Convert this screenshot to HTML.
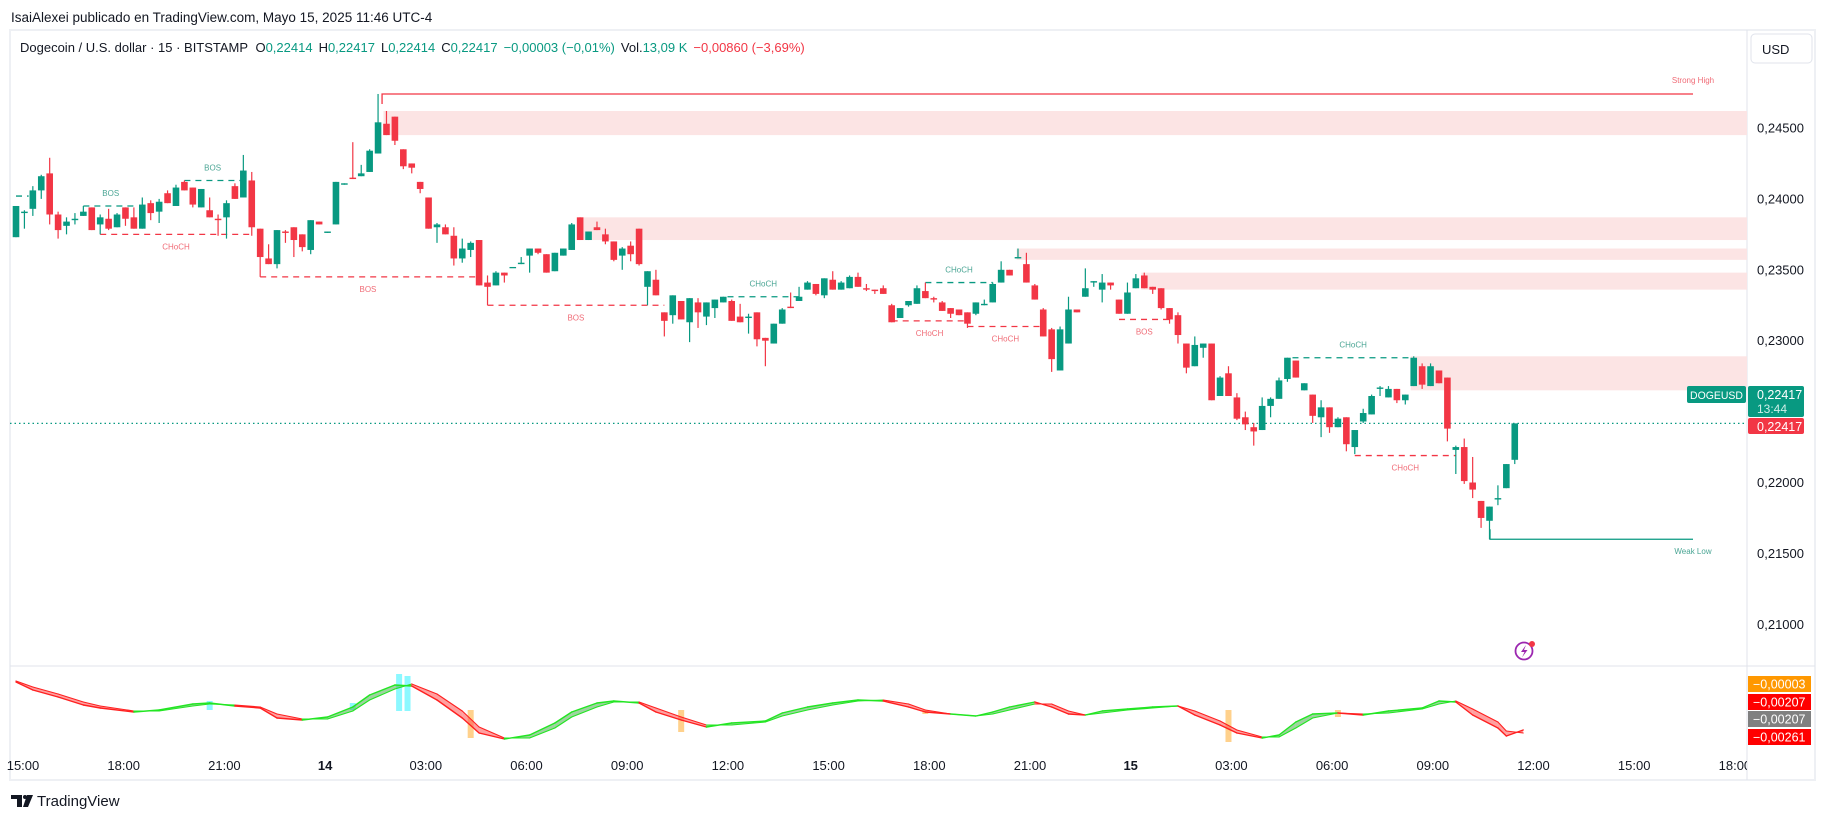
<!DOCTYPE html>
<html><head><meta charset="utf-8">
<style>
html,body{margin:0;padding:0;background:#fff;width:1826px;height:820px;overflow:hidden}
svg{display:block;font-family:"Liberation Sans",sans-serif}
</style></head>
<body>
<svg id="chart" width="1826" height="820" viewBox="0 0 1826 820" xmlns="http://www.w3.org/2000/svg">
<rect x="0" y="0" width="1826" height="820" fill="#ffffff"/>
<text x="11" y="22" font-size="13.5" fill="#131722">IsaiAlexei publicado en TradingView.com, Mayo 15, 2025 11:46 UTC-4</text>
<rect x="10" y="30" width="1805" height="750" fill="none" stroke="#eef0f4" stroke-width="2"/>
<text x="20" y="52" font-size="13" fill="#131722">Dogecoin / U.S. dollar · 15 · BITSTAMP <tspan dx="4">O</tspan><tspan fill="#089981">0,22414</tspan><tspan dx="6">H</tspan><tspan fill="#089981">0,22417</tspan><tspan dx="6">L</tspan><tspan fill="#089981">0,22414</tspan><tspan dx="6">C</tspan><tspan fill="#089981">0,22417</tspan><tspan dx="6" fill="#089981">−0,00003 (−0,01%)</tspan><tspan dx="6">Vol.</tspan><tspan fill="#089981">13,09 K</tspan><tspan dx="6" fill="#f23645">−0,00860 (−3,69%)</tspan></text>
<g>
<rect x="1751" y="34" width="61" height="29" rx="4" fill="#fff" stroke="#e0e3eb"/>
<text x="1762" y="54" font-size="13" fill="#131722">USD</text>
</g>
<line x1="1747" y1="30" x2="1747" y2="780" stroke="#e0e3eb"/>
<line x1="10" y1="666" x2="1815" y2="666" stroke="#e0e3eb"/>
<defs><clipPath id="plotClip"><rect x="10" y="30" width="1737" height="750"/></clipPath></defs>
<g id="zones" clip-path="url(#plotClip)"></g>
<g id="structure" clip-path="url(#plotClip)"></g>
<g id="candles" clip-path="url(#plotClip)"></g>
<g id="osc" clip-path="url(#plotClip)"></g>
<g id="axes"></g>
<g id="tags"></g>
<g>
<circle cx="1524" cy="651" r="8.5" fill="none" stroke="#9c27b0" stroke-width="1.8"/>
<path d="M1526 645 L1521 652 L1524.5 652 L1522 657.5 L1527.5 650 L1524 650 Z" fill="#9c27b0"/>
<circle cx="1532" cy="644" r="3" fill="#f23645"/>
</g>
<g>
<path d="M11 795 H22 V807 H17 V799 H11 Z" fill="#131722"/>
<circle cx="25" cy="797" r="2" fill="#131722"/>
<path d="M27 795 H33 L28 807 H23 Z" fill="#131722"/>
<text x="37" y="806" font-size="15" fill="#131722">TradingView</text>
</g>
</svg>
<script>
// ---- data ----
const opens=[.2373,.2390,.2393,.2406,.2418,.2389,.2381,.2385,.2388,.2394,.2382,.2386,.2380,.2394,.2387,.2379,.2397,.2391,.2404,.2395,.2412,.2408,.2394,.2392,.2386,.2387,.2409,.2401,.2413,.2379,.2358,.2354,.2377,.2380,.2375,.2364,.2384,.2376,.2382,.2410,.2415,.2416,.2419,.2432,.2453,.2458,.2435,.2425,.2412,.2401,.2380,.2380,.2374,.2358,.2364,.2371,.2341,.2339,.2348,.2352,.2354,.2360,.2365,.2361,.2349,.2360,.2364,.2387,.2371,.2380,.2375,.2370,.2360,.2367,.2379,.2338,.2343,.2320,.2318,.2328,.2313,.2327,.2317,.2323,.2327,.2328,.2317,.2316,.2320,.2302,.2298,.2312,.2324,.2328,.2336,.2340,.2332,.2343,.2336,.2337,.2345,.2337,.2336,.2337,.2325,.2316,.2325,.2326,.2335,.2330,.2327,.2323,.2322,.2320,.2319,.2325,.2327,.2341,.2350,.2358,.2354,.2339,.2322,.2308,.2279,.2298,.2322,.2331,.2341,.2336,.2341,.2329,.2319,.2337,.2346,.2338,.2337,.2323,.2318,.2298,.2282,.2295,.2298,.2261,.2277,.2260,.2246,.2239,.2237,.2254,.2259,.2273,.2286,.2265,.2262,.2246,.2253,.2239,.2246,.2225,.2243,.2248,.2266,.2260,.2266,.2258,.2268,.2282,.2268,.2279,.2274,.2223,.2225,.2200,.2187,.2173,.2188,.2196,.2216];
const highs=[.2395,.2392,.2409,.2417,.2429,.2391,.2387,.2390,.2395,.2394,.2389,.2393,.2390,.2394,.2394,.2401,.2399,.2400,.2406,.2410,.2413,.2408,.2407,.2401,.2389,.2399,.2411,.2431,.2419,.2379,.2368,.2378,.2378,.2380,.2375,.2385,.2384,.2377,.2412,.2411,.2440,.2424,.2435,.2474,.2462,.2458,.2435,.2425,.2412,.2401,.2383,.2382,.2380,.2372,.2370,.2371,.2346,.2349,.2348,.2352,.2359,.2365,.2365,.2361,.2362,.2365,.2383,.2387,.2377,.2384,.2379,.2370,.2366,.2370,.2379,.2349,.2350,.2320,.2332,.2328,.2330,.2330,.2327,.2329,.2331,.2329,.2326,.2319,.2320,.2302,.2312,.2323,.2334,.2338,.2342,.2340,.2344,.2349,.2342,.2346,.2348,.2340,.2336,.2339,.2326,.2323,.2328,.2339,.2341,.2331,.2328,.2323,.2322,.2320,.2327,.2329,.2341,.2356,.2350,.2365,.2362,.2340,.2323,.2309,.2310,.2331,.2322,.2351,.2342,.2347,.2341,.2329,.2341,.2347,.2348,.2338,.2337,.2323,.2320,.2298,.2303,.2298,.2298,.2275,.2282,.2263,.2250,.2242,.2260,.2260,.2274,.2288,.2286,.2270,.2262,.2258,.2253,.2246,.2246,.2237,.2252,.2262,.2268,.2268,.2266,.2262,.2289,.2284,.2284,.2279,.2274,.2226,.2231,.2218,.2187,.2183,.2198,.2213,.2241];
const lows=[.2373,.2379,.2388,.2400,.2382,.2372,.2375,.2382,.2388,.2378,.2375,.2378,.2380,.2381,.2379,.2379,.2385,.2383,.2397,.2395,.2406,.2394,.2394,.2387,.2374,.2372,.2400,.2401,.2374,.2345,.2354,.2351,.2369,.2359,.2363,.2361,.2382,.2376,.2382,.2410,.2414,.2416,.2419,.2432,.2445,.2438,.2421,.2418,.2404,.2379,.2369,.2375,.2353,.2355,.2359,.2339,.2325,.2339,.2341,.2352,.2354,.2348,.2361,.2348,.2349,.2360,.2364,.2371,.2371,.2378,.2368,.2356,.2350,.2356,.2353,.2325,.2332,.2303,.2312,.2315,.2299,.2309,.2311,.2316,.2327,.2314,.2313,.2305,.2296,.2282,.2298,.2312,.2323,.2328,.2336,.2332,.2330,.2336,.2336,.2337,.2338,.2335,.2333,.2333,.2313,.2316,.2324,.2326,.2330,.2327,.2321,.2316,.2318,.2309,.2318,.2325,.2327,.2341,.2346,.2358,.2341,.2329,.2303,.2278,.2279,.2298,.2320,.2331,.2338,.2327,.2336,.2319,.2319,.2337,.2337,.2333,.2322,.2312,.2298,.2277,.2282,.2288,.2258,.2261,.2261,.2244,.2237,.2226,.2237,.2246,.2259,.2271,.2274,.2265,.2242,.2232,.2235,.2239,.2222,.2220,.2242,.2248,.2261,.2260,.2256,.2255,.2268,.2266,.2268,.2270,.2229,.2206,.2199,.2189,.2168,.2160,.2184,.2196,.2213];
const closes=[.2395,.2391,.2406,.2416,.2389,.2378,.2384,.2386,.2391,.2378,.2387,.2379,.2389,.2386,.2379,.2396,.2390,.2398,.2397,.2408,.2406,.2396,.2407,.2387,.2385,.2397,.2400,.2420,.2380,.2359,.2354,.2378,.2376,.2371,.2366,.2385,.2382,.2377,.2412,.2411,.2414,.2418,.2434,.2454,.2445,.2441,.2423,.2422,.2407,.2379,.2382,.2375,.2358,.2365,.2369,.2339,.2338,.2348,.2346,.2352,.2355,.2365,.2362,.2348,.2362,.2365,.2382,.2371,.2377,.2378,.2370,.2357,.2365,.2361,.2354,.2349,.2332,.2314,.2332,.2315,.2330,.2320,.2327,.2329,.2331,.2314,.2313,.2317,.2301,.2300,.2312,.2322,.2323,.2331,.2341,.2333,.2344,.2336,.2341,.2345,.2338,.2336,.2335,.2333,.2313,.2323,.2328,.2337,.2330,.2329,.2321,.2319,.2318,.2312,.2327,.2326,.2340,.2350,.2346,.2359,.2341,.2329,.2303,.2287,.2308,.2322,.2320,.2337,.2342,.2341,.2339,.2319,.2334,.2344,.2337,.2336,.2323,.2315,.2304,.2281,.2297,.2298,.2258,.2274,.2261,.2245,.2241,.2236,.2254,.2259,.2272,.2288,.2274,.2270,.2247,.2253,.2239,.2245,.2227,.2237,.2249,.2261,.2267,.2266,.2258,.2262,.2288,.2269,.2282,.2270,.2238,.2225,.2201,.2195,.2175,.2183,.2189,.2213,.22417];
const priceTicks=[0.245,0.240,0.235,0.230,0.220,0.215,0.210];
const priceTickLabels=["0,24500","0,24000","0,23500","0,23000","0,22000","0,21500","0,21000"];
const timeLabels=["15:00","18:00","21:00","14","03:00","06:00","09:00","12:00","15:00","18:00","21:00","15","03:00","06:00","09:00","12:00","15:00","18:00"];
// supply zones: start bar, top price, bottom price
const zoneStart=[44,67.5,119.2,134,166];
const zoneTop=[.2462,.2387,.2365,.2348,.2289];
const zoneBottom=[.2445,.2371,.2357,.2336,.2265];
// structure breaks
const sbStart=[0,8,20,10,29,56,84.5,104,108,113,131,151.6,159];
const sbEnd=[1.5,14.5,26.7,28,54.6,77,93,113,116,122,137,166,171];
const sbPrice=[.2402,.2395,.2413,.2375,.2345,.2325,.2331,.2314,.2341,.2310,.2315,.2288,.2219];
const sbLabel=["","BOS","BOS","CHoCH","BOS","BOS","CHoCH","CHoCH","CHoCH","CHoCH","BOS","CHoCH","CHoCH"];
const sbBull=[1,1,1,0,0,0,1,0,1,0,0,1,0];
const strongHigh=0.2474, strongHighBar=43;
const weakLow=0.2160, weakLowBar=175;
const lastPrice=0.22417;
// oscillator
const oscBars=[0,2,5,8,10,14,17,21,23,26,29,31,34,37,40,42,45,47,50,53,55,58,61,64,66,69,71,74,76,79,82,85,89,91,94,97,100,103,106,108,111,114,116,118,121,123,125,127,129,132,135,138,140,143,145,148,150,152,154,157,160,163,167,169,171,173,176,177,179];
const oscFast=[.0018,.0010,.0003,-.0005,-.0008,-.0012,-.0010,-.0004,-.0003,-.0006,-.0008,-.0018,-.0020,-.0017,-.0007,.0005,.0015,.0014,.0000,-.0018,-.0033,-.0039,-.0035,-.0023,-.0012,-.0003,-.0001,-.0003,-.0012,-.0020,-.0027,-.0023,-.0021,-.0013,-.0007,-.0003,.0000,-.0001,-.0007,-.0012,-.0014,-.0016,-.0012,-.0007,-.0002,-.0007,-.0014,-.0015,-.0011,-.0009,-.0007,-.0006,-.0015,-.0025,-.0033,-.0038,-.0035,-.0022,-.0014,-.0013,-.0015,-.0011,-.0008,-.0001,-.0002,-.0015,-.0028,-.0036,-.0030];
const oscSlow=[.0019,.0013,.0006,-.0002,-.0006,-.0011,-.0011,-.0006,-.0004,-.0005,-.0007,-.0014,-.0019,-.0019,-.0011,.0000,.0011,.0016,.0006,-.0011,-.0027,-.0038,-.0038,-.0028,-.0017,-.0007,-.0002,-.0002,-.0008,-.0017,-.0025,-.0025,-.0022,-.0016,-.0010,-.0005,-.0001,.0000,-.0004,-.0010,-.0014,-.0016,-.0014,-.0010,-.0004,-.0004,-.0011,-.0015,-.0013,-.0010,-.0008,-.0006,-.0011,-.0021,-.0030,-.0037,-.0037,-.0028,-.0018,-.0013,-.0014,-.0013,-.0009,-.0004,-.0001,-.0009,-.0022,-.0031,-.0033];
const sigBar=[23,40,45.5,46.5,54,79,108,144,157];
const sigTop=[-.0001,-.0003,.0026,.0024,-.0010,-.0010,-.0010,-.0010,-.0010];
const sigBottom=[-.0010,-.0010,-.0011,-.0011,-.0038,-.0032,-.0014,-.0042,-.0017];
const sigCyan=[1,1,1,1,0,0,0,0,0];
const oscTagLabels=["−0,00003","−0,00207","−0,00207","−0,00261"];
const oscTagColors=["#ff9800","#ff0000","#808080","#ff0000"];

// ---- scales ----
const NS="http://www.w3.org/2000/svg";
function xOf(k){return 16+k*8.42;}
function yOf(p){return 128+(0.245-p)/0.005*70.9;}
function yOsc(v){return 700-v*10000;}
function mk(tag,attrs,parent){const e=document.createElementNS(NS,tag);for(const a in attrs)e.setAttribute(a,attrs[a]);parent.appendChild(e);return e;}
const GREEN="#089981",RED="#f23645";

// zones
const zg=document.getElementById('zones');
for(let i=0;i<zoneStart.length;i++){
  const r=mk('rect',{x:xOf(zoneStart[i])-3,y:yOf(zoneTop[i]),width:1747-xOf(zoneStart[i])+3,height:yOf(zoneBottom[i])-yOf(zoneTop[i]),fill:"#fce4e4"},zg);
  
  
}
// structure
const sg=document.getElementById('structure');
for(let i=0;i<sbStart.length;i++){
  const c=sbBull[i]?GREEN:RED, y=yOf(sbPrice[i]);
  const l=mk('line',{x1:xOf(sbStart[i]),x2:xOf(sbEnd[i]),y1:y,y2:y,stroke:c,'stroke-width':1.3,'stroke-dasharray':'6 5'},sg);
  
  
  if(sbLabel[i]){
    const t=mk('text',{x:(xOf(sbStart[i])+xOf(sbEnd[i]))/2,y:sbBull[i]?y-10:y+15,'font-size':8,'text-anchor':'middle',fill:sbBull[i]?"#4aa594":"#f06c77"},sg);
    t.textContent=sbLabel[i];
    
    
  }
}
// strong high / weak low
{
  const y=yOf(strongHigh), x0=xOf(strongHighBar)+4;
  const l=mk('polyline',{points:`${x0},${y+10} ${x0},${y} 1693,${y}`,fill:'none',stroke:RED,'stroke-width':1.3},sg);
  
  
  const t=mk('text',{x:1693,y:y-11,'font-size':8,'text-anchor':'middle',fill:"#f06c77"},sg);t.textContent="Strong High";
  
  
  const y2=yOf(weakLow), x1=xOf(weakLowBar)+0.5;
  const l2=mk('polyline',{points:`${x1},${y2-10} ${x1},${y2} 1693,${y2}`,fill:'none',stroke:GREEN,'stroke-width':1.3},sg);
  
  
  const t2=mk('text',{x:1693,y:y2+15,'font-size':8,'text-anchor':'middle',fill:"#4aa594"},sg);t2.textContent="Weak Low";
  
  
  const pl=mk('line',{x1:10,x2:1747,y1:yOf(lastPrice),y2:yOf(lastPrice),stroke:GREEN,'stroke-width':1.2,'stroke-dasharray':'1.5 3'},sg);
  
  
}
// candles
const cg=document.getElementById('candles');
for(let k=0;k<opens.length;k++){
  const up=closes[k]>=opens[k], c=up?GREEN:RED, x=xOf(k);
  const g=mk('g',{},cg);
  
  
  mk('line',{x1:x,x2:x,y1:yOf(highs[k]),y2:yOf(lows[k]),stroke:c,'stroke-width':1.2},g);
  const yt=yOf(Math.max(opens[k],closes[k])), yb=yOf(Math.min(opens[k],closes[k]));
  mk('rect',{x:x-3.3,y:yt,width:6.6,height:Math.max(1.3,yb-yt),fill:c},g);
}
// oscillator
const og=document.getElementById('osc');
for(let i=0;i<sigBar.length;i++){
  const r=mk('rect',{x:xOf(sigBar[i])-3,y:yOsc(sigTop[i]),width:6,height:yOsc(sigBottom[i])-yOsc(sigTop[i]),fill:sigCyan[i]?"rgba(0,240,255,0.45)":"rgba(255,152,0,0.45)"},og);
  
  
}
for(let i=0;i<oscBars.length-1;i++){
  const x0=xOf(oscBars[i]),x1=xOf(oscBars[i+1]);
  const bull=(oscFast[i]+oscFast[i+1])>=(oscSlow[i]+oscSlow[i+1]);
  const p=mk('polygon',{points:`${x0},${yOsc(oscFast[i])} ${x1},${yOsc(oscFast[i+1])} ${x1},${yOsc(oscSlow[i+1])} ${x0},${yOsc(oscSlow[i])}`,fill:bull?"rgba(76,175,80,0.55)":"rgba(255,82,82,0.55)"},og);
  
  
  const col=bull?"#22e622":"#ff2020";
  const a=mk('line',{x1:x0,y1:yOsc(oscFast[i]),x2:x1,y2:yOsc(oscFast[i+1]),stroke:col,'stroke-width':1.4,'stroke-linecap':'round'},og);
  
  
  const b=mk('line',{x1:x0,y1:yOsc(oscSlow[i]),x2:x1,y2:yOsc(oscSlow[i+1]),stroke:col,'stroke-width':1.1,'stroke-linecap':'round'},og);
  
  
}
// axes
const ag=document.getElementById('axes');
for(let i=0;i<priceTicks.length;i++){
  const t=mk('text',{x:1757,y:yOf(priceTicks[i])+4.5,'font-size':13,fill:"#131722"},ag);
  t.textContent=priceTickLabels[i];
  
  
}
const tclip=mk('clipPath',{id:'timeClip'},ag);mk('rect',{x:0,y:752,width:1747,height:28},tclip);
const tg=mk('g',{'clip-path':'url(#timeClip)'},ag);
for(let j=0;j<timeLabels.length;j++){
  const day=timeLabels[j].length<3;
  const t=mk('text',{x:23+j*100.7,y:770,'font-size':13,'text-anchor':'middle',fill:"#131722",'font-weight':day?'bold':'normal'},tg);
  t.textContent=timeLabels[j];
  
  
}
// tags
const tgs=document.getElementById('tags');
{
  const g1=mk('g',{},tgs);
  
  
  mk('rect',{x:1687,y:386,width:59,height:17,rx:2,fill:GREEN},g1);
  const t=mk('text',{x:1690,y:399,'font-size':11,fill:'#fff',textLength:53,lengthAdjust:'spacingAndGlyphs'},g1);t.textContent="DOGEUSD";
  const g2=mk('g',{},tgs);
  
  
  mk('rect',{x:1748,y:386,width:56,height:31,rx:2,fill:GREEN},g2);
  const t2=mk('text',{x:1757,y:399,'font-size':12.5,fill:'#fff'},g2);t2.textContent="0,22417";
  const t3=mk('text',{x:1757,y:413,'font-size':12,fill:'#cfeee8'},g2);t3.textContent="13:44";
  const g3=mk('g',{},tgs);
  
  
  mk('rect',{x:1748,y:418,width:56,height:16,rx:2,fill:RED},g3);
  const t4=mk('text',{x:1757,y:431,'font-size':12.5,fill:'#fff'},g3);t4.textContent="0,22417";
  const tys=[676,694,711,729];
  for(let i=0;i<oscTagLabels.length;i++){
    const g=mk('g',{},tgs);
    
    
    mk('rect',{x:1748,y:tys[i],width:63,height:16,fill:oscTagColors[i]},g);
    const t=mk('text',{x:1753,y:tys[i]+12.5,'font-size':12.5,fill:'#fff'},g);t.textContent=oscTagLabels[i];
  }
}
</script>
</body></html>
